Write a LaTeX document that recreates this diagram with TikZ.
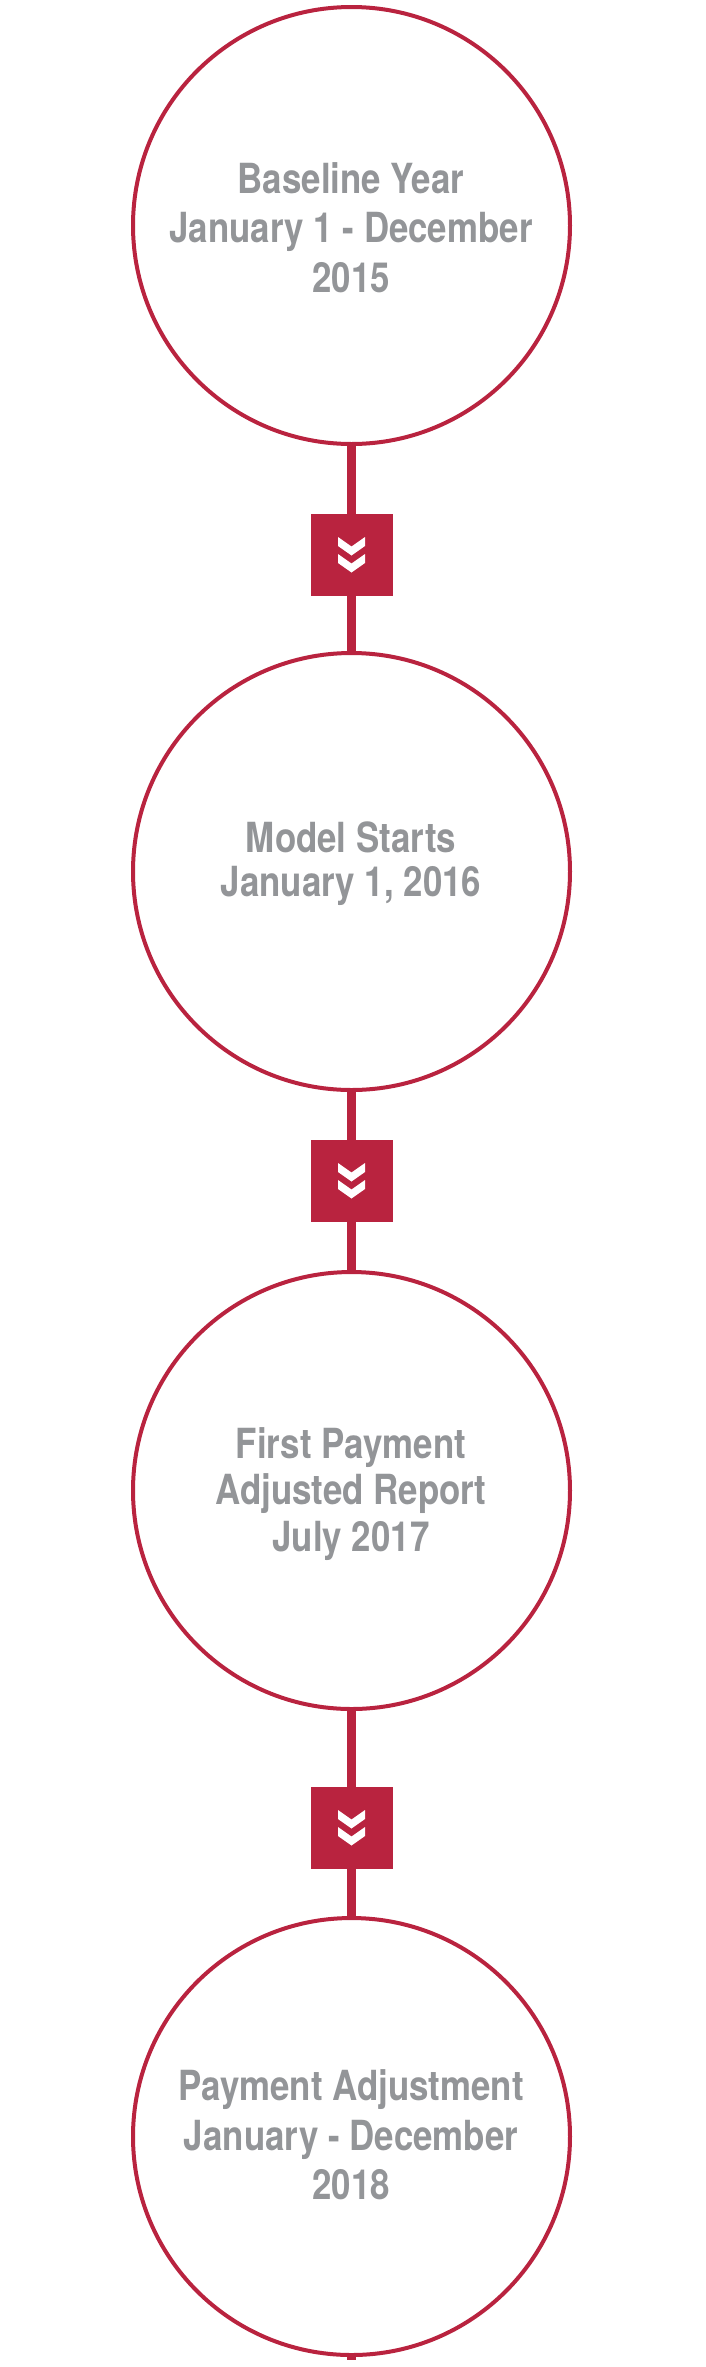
\documentclass[tikz,border=0pt]{standalone}
\usepackage{fontspec}
\newfontfamily\heroscn[FakeStretch=0.84]{TeX Gyre Heros}
\usepackage{xcolor}
\usepackage{tikz}

\definecolor{timered}{HTML}{B9233F}
\definecolor{labelgray}{HTML}{939598}

\tikzset{
  stage/.style={circle, draw=timered, line width=4pt, minimum size=437pt, inner sep=0pt, outer sep=0pt},
  stepbox/.style={rectangle, fill=timered, minimum size=82pt, inner sep=0pt, outer sep=0pt},
  link/.style={timered, line width=9pt},
  lbl/.style={font=\heroscn\bfseries\fontsize{41.5pt}{#1}\selectfont, text=labelgray, align=center, inner sep=0pt},
  lbl/.default=49.5pt,
  dblchev/.pic={
    \fill[white] (-13.5,-18) -- (0,-8.5) -- (13.5,-18) -- (13.5,-9) -- (0,0.5) -- (-13.5,-9) -- cycle;
    \fill[white] (-13.5,-1) -- (0,8.5) -- (13.5,-1) -- (13.5,8) -- (0,17.5) -- (-13.5,8) -- cycle;
  }
}

\begin{document}
\begin{tikzpicture}[x=1pt,y=-1pt]
                \useasboundingbox (0,0) rectangle (705,2367);

                %% stages
                \node[stage] (c1) at (351.5,225.5) {};
                \node[stage] (c2) at (351.5,871.5) {};
                \node[stage] (c3) at (351.5,1490.5) {};
                \node[stage] (c4) at (351.5,2136.5) {};

                %% steps
                \node[stepbox] (s1) at (351.5,555) {};
                \node[stepbox] (s2) at (351.5,1181) {};
                \node[stepbox] (s3) at (351.5,1828) {};
                \pic at (s1) {dblchev};
                \pic at (s2) {dblchev};
                \pic at (s3) {dblchev};

                %% links
                \draw[link] (c1) -- (s1);
                \draw[link] (s1) -- (c2);
                \draw[link] (c2) -- (s2);
                \draw[link] (s2) -- (c3);
                \draw[link] (c3) -- (s3);
                \draw[link] (s3) -- (c4);
                \coordinate (tail) at (351.5,2360);
                \draw[link] (c4) -- (tail);

                %% labels
                \node[lbl] (l1) at (351,227.5) {Baseline Year\\January 1 - December\\2015};
                \node[lbl=44pt] (l2) at (351,864) {Model Starts\\January 1, 2016};
                \node[lbl=46.5pt] (l3) at (351,1494) {First Payment\\Adjusted Report\\July 2017};
                \node[lbl] (l4) at (351,2135) {Payment Adjustment\\January - December\\2018};

\end{tikzpicture}
\end{document}
